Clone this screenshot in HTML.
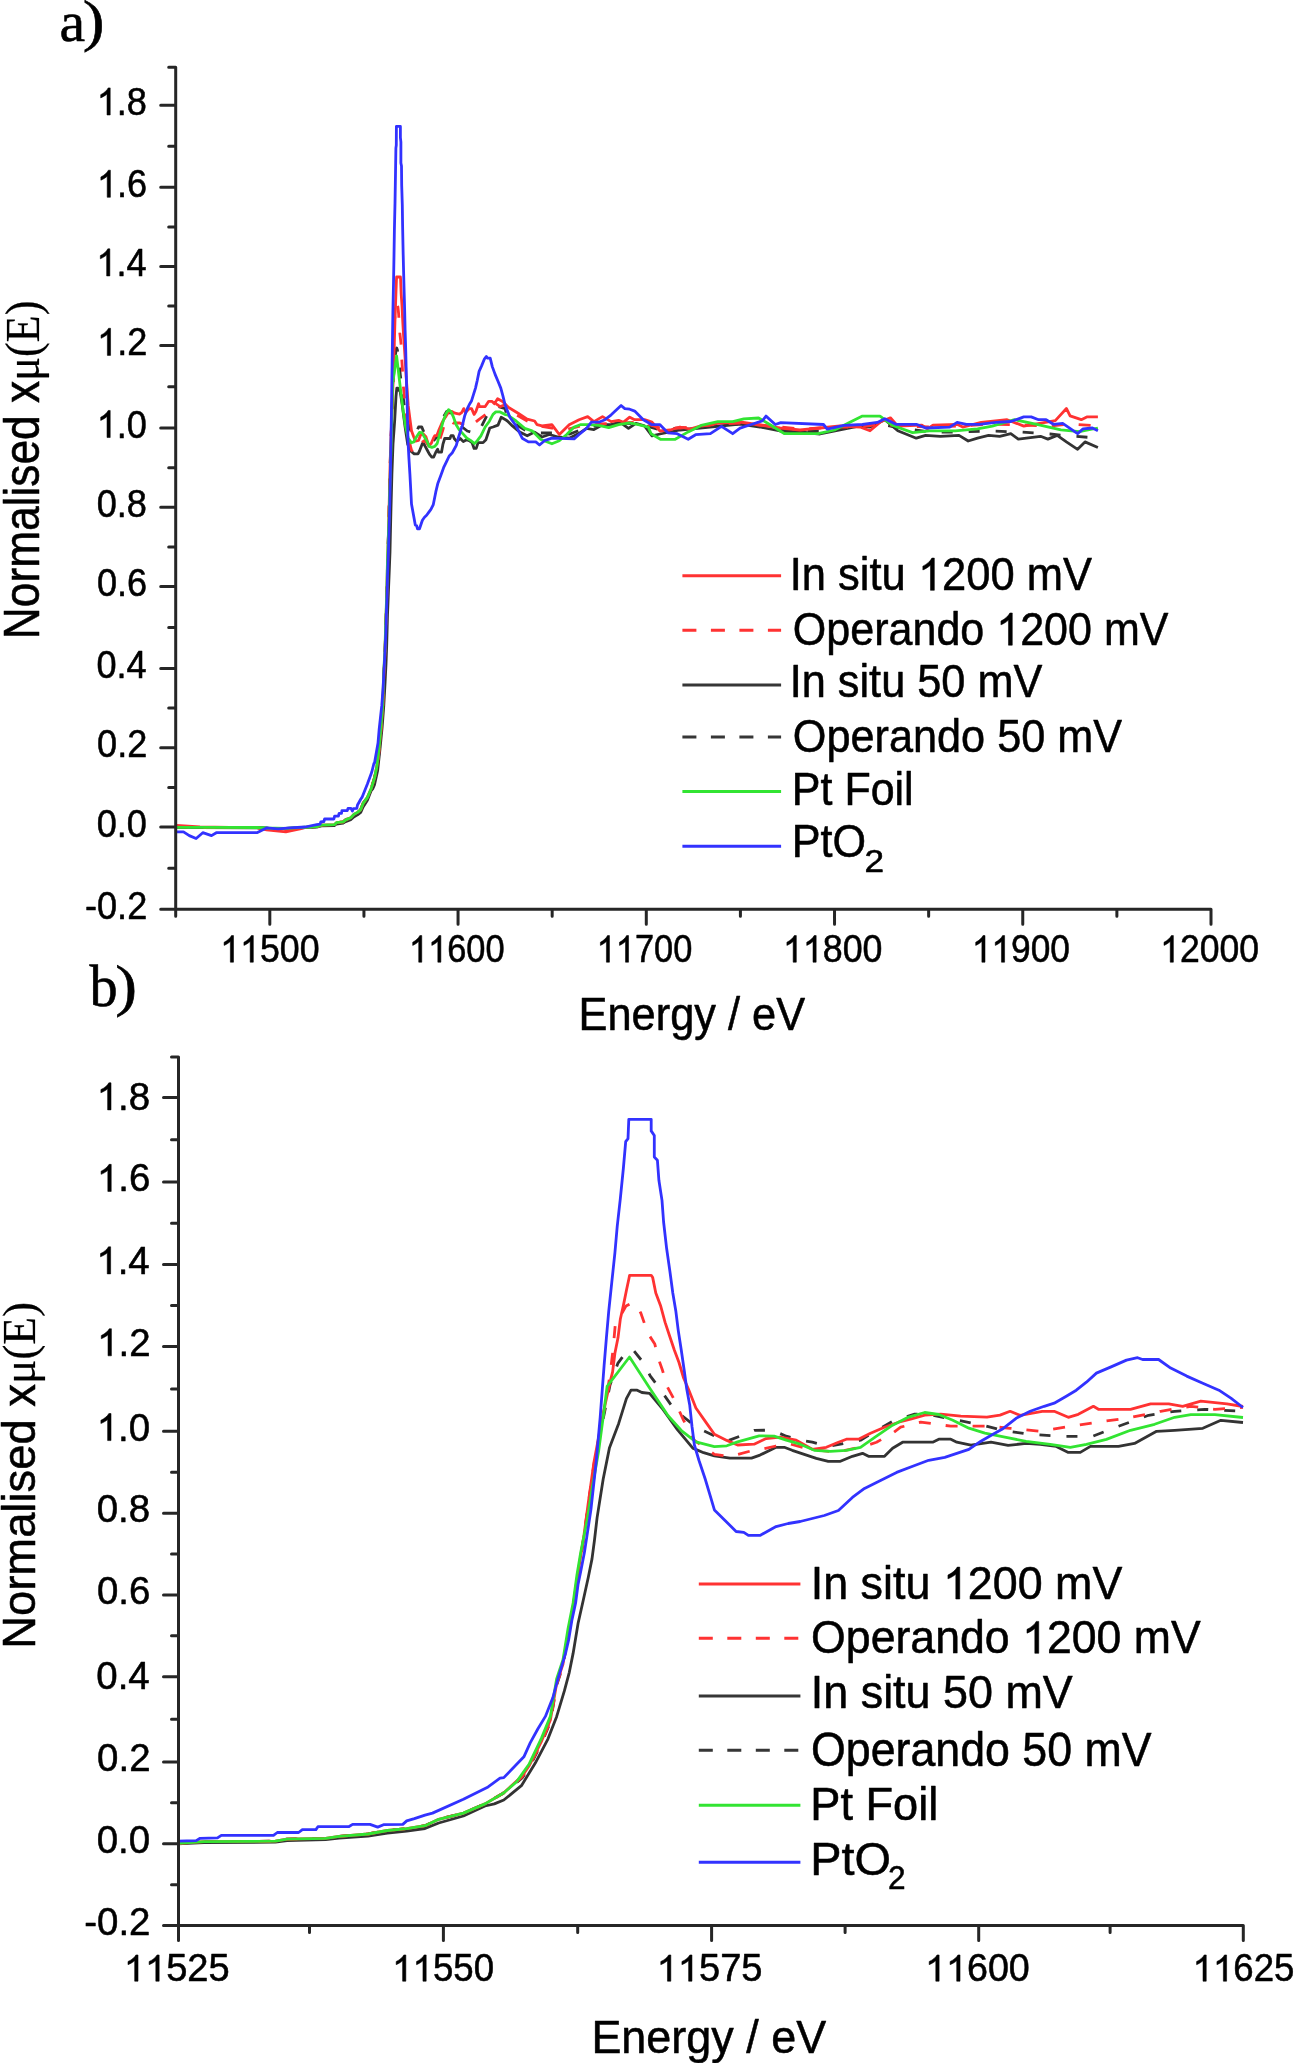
<!DOCTYPE html><html><head><meta charset="utf-8"><style>html,body{margin:0;padding:0;background:#fff;width:1295px;height:2063px;overflow:hidden}</style></head><body><svg width="1295" height="2063" viewBox="0 0 1295 2063" style="display:block;will-change:transform">
<rect width="100%" height="100%" fill="#fff"/>
<g font-family='"Liberation Sans", sans-serif' fill="#000" style="font-kerning:none">
<text transform="translate(59.58,40.72) scale(0.9966,1)" font-size="57.92" font-family='"Liberation Serif", serif' stroke="#000" stroke-width="0.6">a</text>
<text transform="translate(82.84,39.82) scale(1.1561,1)" font-size="56.56" font-family='"Liberation Serif", serif' stroke="#000" stroke-width="0.6">)</text>
<text transform="translate(89.40,1005.81) scale(0.9588,1)" font-size="58.72" font-family='"Liberation Serif", serif' stroke="#000" stroke-width="0.6">b</text>
<text transform="translate(115.24,1004.71) scale(1.1360,1)" font-size="57.56" font-family='"Liberation Serif", serif' stroke="#000" stroke-width="0.6">)</text>
<path d="M176.5,827.0 L200.0,827.6 L256.9,827.6 L266.5,828.0 L285.8,828.5 L309.0,827.2 L316.7,826.7 L321.5,825.2 L334.3,824.7 L336.4,822.7 L343.2,821.9 L345.6,819.9 L350.7,817.7 L354.1,814.3 L357.5,812.4 L360.7,809.6 L363.1,803.4 L367.4,797.4 L371.2,788.5 L374.5,777.9 L377.7,763.3 L378.9,753.6 L381.1,730.1 L382.7,710.6 L383.8,676.1 L384.9,657.7 L385.8,626.7 L386.7,600.7 L387.3,574.1 L388.0,550.7 L388.6,530.3 L389.3,502.2 L390.3,461.6 L391.4,430.6 L392.3,407.3 L393.1,383.0 L394.5,362.0 L396.1,350.0 L396.7,348.0 L397.4,350.0 L399.1,362.0 L400.2,374.1 L401.4,383.0 L404.4,406.8 L408.5,424.8 L411.5,432.4 L413.7,437.6 L416.9,430.8 L418.6,427.0 L421.7,426.9 L424.1,432.7 L426.6,436.6 L428.7,438.5 L431.6,442.5 L433.7,440.5 L437.2,436.6 L440.8,425.0 L443.2,417.2 L446.8,411.3 L448.9,411.3 L452.4,415.2 L457.0,420.1 L458.8,422.1 L462.2,427.0 L467.3,431.0 L473.4,432.9 L478.4,432.9 L483.1,423.1 L488.4,412.5 L493.0,408.6 L498.3,406.6 L505.1,408.6 L507.4,418.0 L515.0,424.0 L525.0,430.0 L540.0,433.0 L555.0,433.0 L570.0,434.0 L585.0,428.0 L600.0,425.0 L620.0,423.0 L640.0,424.0 L660.0,430.0 L680.0,428.0 L700.0,427.0 L720.0,425.0 L740.0,424.0 L760.0,426.0 L780.0,429.0 L800.0,431.0 L820.0,431.0 L840.0,428.0 L860.0,426.0 L880.0,424.0 L900.0,428.0 L930.0,432.0 L960.0,432.0 L990.0,431.0 L1020.0,432.0 L1050.0,434.0 L1070.0,436.0 L1097.9,438.0" stroke="#333" stroke-width="2.8" stroke-dasharray="11,16" fill="none" stroke-linejoin="round"/>
<path d="M176.5,827.0 L200.0,827.6 L256.9,827.8 L266.5,828.5 L285.8,828.8 L309.0,827.4 L316.7,827.2 L321.5,825.9 L334.3,825.6 L336.4,824.0 L343.2,823.1 L345.6,821.6 L350.7,819.6 L354.1,816.7 L357.5,814.8 L360.7,812.3 L363.1,807.0 L367.4,800.2 L371.2,790.5 L372.9,788.5 L374.5,784.7 L377.6,770.8 L380.0,748.9 L382.2,726.5 L383.8,705.4 L385.1,681.9 L386.0,664.0 L386.7,645.1 L387.5,614.9 L388.4,592.2 L389.3,570.0 L390.0,551.6 L390.4,533.2 L390.9,511.5 L391.9,474.1 L393.0,444.2 L394.7,420.3 L396.0,396.3 L396.8,388.1 L397.9,388.1 L398.7,390.3 L400.1,391.1 L402.3,405.4 L405.0,426.3 L407.7,444.2 L409.6,448.7 L411.5,451.7 L414.2,453.9 L418.0,453.9 L419.5,451.0 L422.4,443.5 L423.8,443.5 L425.2,446.4 L427.3,450.2 L429.4,454.1 L431.6,457.0 L433.7,457.0 L435.8,452.2 L437.6,449.3 L438.6,452.2 L441.5,452.2 L442.9,444.4 L444.7,438.5 L450.0,438.5 L451.0,435.6 L453.1,435.6 L454.2,438.5 L456.7,441.4 L460.3,438.5 L463.3,441.6 L466.5,439.7 L469.1,440.7 L472.0,442.6 L474.1,448.4 L476.2,448.4 L478.1,442.6 L483.1,442.6 L485.9,439.7 L489.8,428.0 L493.0,427.0 L498.0,425.1 L501.2,417.3 L505.1,419.4 L507.4,421.0 L512.4,425.9 L519.8,432.1 L527.2,435.8 L534.6,432.1 L542.0,437.0 L549.4,434.5 L558.1,437.0 L569.2,438.2 L579.1,433.3 L586.5,428.4 L593.9,429.6 L602.5,424.7 L611.2,424.7 L619.8,422.2 L628.5,428.4 L635.9,423.4 L644.5,425.9 L652.0,435.8 L660.0,434.0 L670.0,432.0 L680.0,430.0 L700.0,428.0 L720.0,426.0 L740.0,424.0 L760.0,427.0 L780.0,431.0 L800.0,432.0 L820.0,434.0 L840.0,430.0 L860.0,426.0 L870.0,427.1 L884.8,419.7 L897.8,430.8 L916.3,438.2 L925.6,435.4 L940.4,436.3 L959.0,435.4 L968.2,441.0 L977.5,438.2 L988.6,435.4 L999.7,436.3 L1010.8,433.6 L1018.3,439.1 L1040.5,436.3 L1047.9,439.1 L1057.2,435.4 L1066.4,441.9 L1077.6,449.3 L1085.0,441.9 L1097.9,447.5" stroke="#333" stroke-width="2.8" fill="none" stroke-linejoin="round"/>
<path d="M176.5,826.5 L200.0,827.5 L256.9,827.8 L266.5,829.0 L285.8,830.0 L300.0,828.5 L309.0,826.8 L316.7,826.7 L321.5,825.2 L334.3,824.7 L336.4,822.7 L343.2,821.9 L345.6,819.9 L350.7,817.7 L354.1,814.3 L357.5,812.4 L360.7,809.6 L363.1,803.4 L367.4,797.4 L371.2,788.5 L374.5,777.9 L377.7,762.4 L378.9,752.7 L381.1,729.2 L382.7,709.6 L383.8,675.2 L384.9,656.7 L385.8,625.7 L386.7,599.7 L387.3,573.1 L388.0,549.8 L388.6,529.4 L389.3,500.2 L390.3,459.6 L391.4,428.7 L392.3,403.4 L393.1,373.3 L393.7,349.0 L394.1,323.2 L394.8,317.9 L396.0,306.6 L397.0,303.7 L397.9,306.9 L398.6,313.5 L399.8,332.9 L401.0,343.3 L401.7,358.2 L402.4,368.7 L403.2,384.6 L404.3,395.7 L406.1,417.3 L408.0,436.8 L411.5,450.2 L414.2,452.5 L417.7,447.2 L419.5,445.8 L422.3,442.2 L424.8,440.3 L428.4,445.4 L433.0,448.3 L437.9,442.5 L440.1,438.5 L442.9,429.8 L444.3,424.0 L447.8,419.2 L449.2,420.1 L453.1,423.0 L459.9,423.0 L463.7,425.1 L469.1,428.0 L474.5,423.1 L479.1,419.3 L484.5,415.4 L490.5,408.6 L495.8,403.7 L500.1,406.6 L505.1,404.7 L508.6,410.0 L518.5,416.0 L527.2,421.0 L540.0,426.0 L552.0,428.0 L565.0,430.0 L580.0,426.0 L600.0,424.0 L620.0,423.0 L640.0,422.0 L660.0,428.0 L680.0,428.0 L700.0,426.0 L720.0,424.0 L740.0,423.0 L760.0,425.0 L780.0,427.0 L800.0,429.0 L820.0,428.0 L840.0,427.0 L860.0,427.0 L880.0,424.0 L900.0,426.0 L930.0,427.0 L960.0,426.0 L990.0,424.0 L1020.0,425.0 L1050.0,426.0 L1070.0,424.0 L1097.9,426.0" stroke="#ff3232" stroke-width="2.8" stroke-dasharray="12,15" fill="none" stroke-linejoin="round"/>
<path d="M176.5,825.5 L200.0,827.0 L230.0,827.5 L256.9,827.5 L266.5,829.8 L285.8,831.8 L300.0,829.0 L309.0,826.5 L316.7,826.7 L321.5,825.2 L334.3,824.7 L336.4,822.7 L343.2,821.9 L345.6,819.9 L350.7,817.7 L354.1,814.3 L357.5,812.4 L360.7,809.6 L363.1,803.4 L367.4,797.4 L371.2,788.5 L374.5,777.9 L377.7,761.5 L378.9,751.7 L381.1,728.2 L382.7,708.7 L383.8,674.3 L384.9,655.7 L385.8,624.7 L386.7,598.7 L387.3,572.1 L388.0,548.8 L388.6,528.4 L389.3,499.3 L390.3,457.7 L391.4,426.7 L392.3,402.4 L393.2,379.2 L393.6,370.2 L394.0,352.2 L394.5,337.2 L395.0,319.4 L395.5,306.0 L396.0,291.2 L396.4,280.8 L396.6,277.0 L400.4,277.0 L400.6,279.2 L401.2,294.1 L402.0,306.0 L402.8,322.4 L403.6,335.8 L404.5,349.2 L405.3,361.1 L406.1,376.2 L406.9,386.7 L408.2,405.4 L410.1,420.3 L411.5,430.8 L413.7,436.8 L415.6,441.2 L418.5,440.5 L420.6,435.1 L423.1,433.7 L425.9,436.6 L428.7,445.4 L431.2,443.5 L433.3,438.5 L434.8,435.6 L436.9,435.6 L439.0,429.8 L441.5,424.0 L443.9,419.2 L446.1,416.1 L448.5,412.3 L451.4,411.3 L454.9,413.2 L459.5,414.2 L461.9,412.3 L463.7,408.6 L465.5,412.5 L469.4,408.6 L471.6,408.6 L474.1,414.4 L475.9,411.5 L478.6,403.7 L479.5,406.6 L485.2,406.6 L488.7,401.3 L491.9,401.3 L494.4,403.7 L497.6,398.8 L502.2,401.3 L505.1,403.9 L508.6,407.4 L518.5,413.5 L527.2,419.1 L534.6,421.0 L537.1,424.7 L542.0,425.9 L551.9,424.7 L559.3,434.5 L569.2,424.7 L579.1,419.7 L587.7,416.6 L593.9,421.6 L602.5,416.6 L611.2,421.6 L618.6,420.3 L623.5,422.2 L629.7,417.2 L634.7,419.7 L644.5,419.7 L652.0,422.2 L660.0,431.0 L670.0,430.0 L680.0,427.0 L690.0,429.0 L700.0,426.0 L710.0,425.0 L720.0,423.0 L740.0,422.0 L760.0,425.0 L780.0,428.0 L800.0,430.0 L820.0,428.0 L840.0,426.0 L860.0,427.0 L870.0,430.8 L881.1,421.5 L890.4,417.8 L897.8,426.1 L921.9,425.2 L927.4,428.9 L933.0,425.2 L957.1,424.3 L962.7,427.1 L981.2,422.4 L1007.1,419.7 L1023.8,426.1 L1055.3,420.6 L1066.4,408.5 L1070.1,415.9 L1081.3,419.7 L1086.8,416.9 L1097.9,416.9" stroke="#ff3232" stroke-width="2.8" fill="none" stroke-linejoin="round"/>
<path d="M176.5,827.3 L200.0,827.3 L256.9,827.5 L266.5,828.0 L285.8,828.3 L309.0,827.0 L316.7,826.7 L321.5,825.2 L334.3,824.7 L336.4,822.7 L343.2,821.9 L345.6,819.9 L350.7,817.7 L354.1,814.3 L357.5,812.4 L360.7,809.6 L363.1,803.4 L367.4,797.4 L371.2,788.5 L374.5,777.9 L376.7,767.2 L378.9,750.0 L381.1,725.4 L382.7,705.4 L383.8,670.2 L384.9,651.4 L385.8,619.9 L386.7,594.7 L387.3,567.6 L388.0,545.5 L389.1,514.5 L390.0,481.6 L391.1,447.2 L392.1,408.3 L392.6,384.3 L396.6,355.8 L400.1,385.8 L403.4,412.8 L405.8,427.8 L408.2,438.3 L411.5,442.8 L413.7,442.0 L415.6,438.3 L419.4,432.4 L422.0,432.7 L424.1,436.6 L426.6,440.5 L429.1,446.4 L431.9,447.3 L434.8,446.4 L437.2,443.5 L440.1,432.7 L442.9,422.1 L445.7,414.2 L448.5,409.7 L451.0,411.7 L453.5,417.2 L456.3,425.0 L459.2,429.8 L463.0,433.9 L466.5,437.8 L470.9,440.7 L474.5,443.6 L477.3,440.7 L480.9,435.8 L485.2,427.0 L489.4,421.2 L493.0,414.4 L495.8,411.9 L500.1,411.9 L505.1,414.6 L507.4,414.8 L516.1,421.0 L524.7,428.4 L532.1,430.8 L540.8,439.5 L551.9,443.8 L559.3,440.7 L566.7,434.5 L574.1,427.1 L580.3,424.7 L589.0,424.7 L598.8,425.3 L608.7,427.7 L618.6,424.7 L629.7,422.8 L638.4,424.7 L648.3,427.1 L651.1,433.7 L660.4,439.3 L675.2,439.3 L688.2,431.9 L701.2,425.4 L717.8,421.7 L732.7,421.7 L743.8,418.9 L758.6,418.0 L769.7,424.5 L784.6,433.7 L799.4,433.7 L817.9,433.7 L834.6,430.0 L849.4,422.6 L862.4,416.1 L880.0,416.1 L892.2,425.2 L912.6,432.6 L929.3,430.8 L955.2,430.8 L977.5,428.9 L992.3,426.1 L1014.5,419.7 L1036.8,424.3 L1060.9,429.9 L1079.4,431.7 L1097.9,428.0" stroke="#32e432" stroke-width="2.8" fill="none" stroke-linejoin="round"/>
<path d="M176.5,831.8 L183.5,831.8 L189.3,835.6 L196.1,838.5 L202.8,832.7 L211.5,835.6 L216.3,832.7 L256.9,832.7 L266.5,827.9 L278.1,828.9 L289.7,827.9 L305.1,827.0 L316.7,824.7 L320.1,824.1 L320.8,821.9 L323.9,821.5 L324.6,819.0 L333.9,819.0 L334.6,816.2 L338.4,816.2 L339.1,813.4 L341.5,813.4 L341.9,810.6 L347.3,810.6 L348.0,808.4 L351.0,808.4 L352.4,811.0 L353.4,808.7 L356.8,808.4 L357.5,805.0 L358.8,802.7 L360.7,799.3 L362.0,797.4 L367.4,783.9 L371.8,772.0 L373.9,763.5 L374.5,762.9 L378.0,743.0 L379.1,730.0 L380.5,717.1 L381.8,705.4 L383.1,687.8 L384.0,670.2 L384.7,657.7 L385.3,645.1 L385.9,631.3 L386.4,612.4 L387.1,594.7 L387.5,576.1 L388.0,563.9 L388.6,545.5 L389.8,504.0 L390.7,456.2 L391.4,414.3 L392.1,364.2 L392.5,337.2 L392.9,312.0 L393.5,283.7 L394.0,255.4 L394.4,230.1 L395.0,203.4 L395.5,173.6 L395.9,148.1 L396.3,145.1 L396.4,126.4 L400.4,126.4 L400.4,137.7 L400.9,142.1 L400.9,163.1 L401.5,166.1 L401.7,185.6 L402.3,204.9 L402.6,225.7 L403.1,251.0 L403.6,271.8 L404.2,294.1 L404.7,312.0 L405.1,329.8 L405.7,349.2 L406.2,370.2 L406.6,386.7 L407.1,402.3 L407.6,423.3 L408.0,441.2 L408.8,456.2 L409.9,474.1 L410.7,489.0 L411.5,504.0 L413.4,514.5 L415.3,525.0 L416.7,525.8 L417.5,528.8 L419.5,528.8 L422.4,520.2 L424.5,517.2 L426.6,515.3 L428.7,512.4 L430.9,509.4 L433.3,504.6 L435.8,491.9 L437.9,483.2 L440.8,475.5 L443.6,467.7 L446.4,461.8 L449.2,456.0 L452.1,453.1 L454.2,449.3 L456.3,445.4 L458.4,437.6 L460.6,430.8 L462.2,426.1 L464.8,415.4 L467.3,408.6 L469.8,403.7 L471.6,400.7 L473.7,393.9 L475.5,388.1 L477.3,380.3 L479.1,371.4 L481.7,365.6 L484.5,358.8 L486.4,356.5 L487.3,358.2 L490.2,358.2 L492.3,366.6 L495.1,374.4 L498.0,381.3 L500.8,388.1 L502.9,395.8 L505.1,404.9 L509.9,417.2 L516.1,425.9 L522.2,438.2 L528.4,441.9 L535.8,441.9 L539.5,445.0 L544.5,440.7 L551.9,438.2 L574.1,438.9 L579.1,434.5 L586.5,428.4 L591.4,422.2 L598.8,422.2 L605.0,419.7 L611.2,414.8 L621.1,405.5 L624.8,408.6 L629.7,409.2 L634.7,411.1 L643.3,419.7 L652.0,424.7 L660.0,424.7 L667.8,432.8 L677.1,433.7 L688.2,439.3 L695.6,434.7 L710.4,433.7 L721.5,426.3 L732.7,433.7 L740.1,428.2 L751.2,424.5 L762.3,420.8 L766.0,416.1 L775.3,424.5 L780.8,422.6 L823.5,424.5 L827.2,429.1 L843.9,425.4 L862.4,424.5 L877.4,422.4 L884.8,418.7 L895.9,424.3 L916.3,424.3 L925.6,428.0 L949.7,427.1 L957.1,422.4 L966.4,424.3 L979.3,424.3 L996.0,422.4 L1010.8,421.5 L1023.8,416.9 L1031.2,416.9 L1038.6,419.7 L1046.1,419.7 L1053.5,424.3 L1062.7,423.4 L1077.6,433.6 L1083.1,428.9 L1092.4,428.0 L1097.9,430.8" stroke="#3232ff" stroke-width="2.8" fill="none" stroke-linejoin="round"/>
<path d="M177.7,1843.3 L204.0,1841.7 L275.4,1841.2 L287.0,1839.2 L325.6,1838.3 L339.1,1836.3 L368.0,1834.0 L387.4,1830.5 L406.7,1828.6 L425.0,1825.7 L438.7,1819.3 L463.4,1813.1 L485.0,1803.9 L503.6,1793.0 L522.1,1778.0 L529.0,1768.0 L541.6,1743.0 L550.4,1722.0 L556.7,1685.0 L563.0,1666.0 L568.1,1635.0 L573.1,1609.0 L576.9,1582.0 L580.7,1558.0 L584.0,1537.0 L588.0,1508.0 L594.0,1466.0 L600.0,1434.0 L605.0,1410.0 L610.0,1385.0 L617.8,1363.4 L627.0,1351.0 L630.5,1349.0 L634.0,1351.0 L644.0,1363.4 L650.2,1375.8 L657.1,1385.0 L674.3,1409.5 L697.5,1428.0 L714.4,1435.8 L726.8,1441.2 L745.3,1434.2 L754.6,1430.3 L772.1,1430.2 L786.2,1436.2 L800.2,1440.2 L812.3,1442.2 L828.3,1446.3 L840.4,1444.2 L860.5,1440.2 L880.5,1428.2 L894.6,1420.2 L914.7,1414.1 L926.7,1414.1 L946.8,1418.1 L972.9,1423.2 L983.0,1425.2 L1002.0,1430.3 L1030.2,1434.4 L1064.3,1436.4 L1092.4,1436.4 L1118.5,1426.3 L1148.6,1415.3 L1174.7,1411.3 L1204.8,1409.3 L1243.0,1411.3" stroke="#333" stroke-width="2.8" stroke-dasharray="11,16" fill="none" stroke-linejoin="round"/>
<path d="M177.7,1843.8 L204.0,1842.5 L275.4,1842.2 L287.0,1840.5 L325.6,1839.6 L339.1,1838.0 L368.0,1836.0 L387.4,1833.0 L406.7,1831.0 L425.0,1828.5 L438.7,1823.0 L463.4,1816.0 L485.0,1806.0 L494.3,1803.9 L503.8,1800.0 L521.4,1785.7 L535.3,1763.1 L547.9,1739.1 L556.7,1716.4 L564.3,1691.2 L569.3,1672.3 L573.1,1653.4 L578.1,1623.2 L583.2,1600.5 L588.2,1577.8 L592.0,1558.9 L594.5,1540.0 L597.1,1517.6 L603.2,1479.0 L609.4,1448.1 L618.7,1423.4 L626.4,1398.7 L631.0,1390.2 L637.2,1390.2 L641.9,1392.5 L649.6,1393.3 L661.9,1408.0 L677.4,1429.6 L692.8,1448.1 L703.6,1452.7 L714.4,1455.8 L729.9,1458.1 L751.5,1458.1 L760.0,1455.1 L776.1,1447.3 L784.2,1447.3 L792.2,1450.3 L804.2,1454.3 L816.3,1458.3 L828.3,1461.3 L840.4,1461.3 L852.4,1456.3 L862.5,1453.3 L868.5,1456.3 L884.5,1456.3 L892.6,1448.3 L902.6,1442.2 L932.7,1442.2 L938.8,1439.2 L950.8,1439.2 L956.8,1442.2 L970.9,1445.2 L991.0,1442.2 L1008.1,1445.4 L1026.1,1443.4 L1040.2,1444.4 L1056.3,1446.4 L1068.3,1452.4 L1080.3,1452.4 L1090.4,1446.4 L1118.5,1446.4 L1134.5,1443.4 L1156.6,1431.3 L1174.7,1430.3 L1202.8,1428.3 L1220.9,1420.3 L1243.0,1422.5" stroke="#333" stroke-width="2.8" fill="none" stroke-linejoin="round"/>
<path d="M177.7,1843.3 L204.0,1841.7 L275.4,1841.2 L287.0,1839.2 L325.6,1838.3 L339.1,1836.3 L368.0,1834.0 L387.4,1830.5 L406.7,1828.6 L425.0,1825.7 L438.7,1819.3 L463.4,1813.1 L485.0,1803.9 L503.6,1793.0 L522.1,1777.0 L529.0,1767.0 L541.6,1742.0 L550.4,1721.0 L556.7,1684.0 L563.0,1665.0 L568.1,1634.0 L573.1,1608.0 L576.9,1581.0 L580.7,1557.0 L584.0,1536.0 L588.0,1506.0 L594.0,1464.0 L600.0,1432.0 L605.0,1406.0 L610.0,1375.0 L613.0,1350.0 L615.4,1323.2 L619.3,1317.8 L626.0,1306.0 L632.0,1303.0 L637.1,1306.3 L640.9,1313.2 L647.9,1333.3 L654.8,1344.1 L658.7,1359.5 L662.5,1370.3 L667.2,1386.6 L673.4,1398.1 L683.6,1420.3 L694.4,1440.4 L714.4,1454.3 L729.9,1456.6 L749.9,1451.2 L760.0,1449.7 L776.0,1446.0 L790.0,1444.0 L810.3,1449.3 L836.4,1452.3 L864.5,1446.3 L876.5,1442.2 L892.6,1433.2 L900.6,1427.2 L920.7,1422.2 L928.7,1423.2 L950.8,1426.2 L989.0,1426.2 L1010.1,1428.3 L1040.2,1431.3 L1070.3,1426.3 L1096.4,1422.3 L1126.5,1418.3 L1160.6,1411.3 L1190.8,1406.3 L1214.9,1409.3 L1243.0,1407.3" stroke="#ff3232" stroke-width="2.8" stroke-dasharray="12,15" fill="none" stroke-linejoin="round"/>
<path d="M177.7,1843.3 L204.0,1841.7 L275.4,1841.2 L287.0,1839.2 L325.6,1838.3 L339.1,1836.3 L368.0,1834.0 L387.4,1830.5 L406.7,1828.6 L425.0,1825.7 L438.7,1819.3 L463.4,1813.1 L485.0,1803.9 L503.6,1793.0 L522.1,1776.1 L529.0,1766.0 L541.6,1741.0 L550.4,1720.0 L556.7,1683.0 L563.0,1664.0 L568.1,1633.0 L573.1,1607.0 L576.9,1580.0 L580.7,1556.0 L584.0,1535.0 L588.0,1505.0 L594.0,1462.0 L600.0,1430.0 L605.0,1405.0 L610.3,1381.1 L612.6,1371.8 L614.9,1353.3 L618.0,1337.8 L620.3,1319.3 L623.4,1305.4 L626.5,1290.0 L628.8,1279.2 L629.6,1275.3 L651.2,1275.3 L652.7,1277.6 L655.8,1293.0 L660.5,1305.4 L665.1,1322.4 L669.7,1336.3 L674.4,1350.2 L679.0,1362.5 L683.6,1378.0 L688.3,1388.8 L695.9,1408.0 L706.7,1423.4 L714.4,1434.2 L726.8,1440.4 L737.6,1445.0 L754.1,1444.2 L766.1,1438.6 L780.2,1437.2 L796.2,1440.2 L812.3,1449.3 L826.3,1447.3 L838.4,1442.2 L846.4,1439.2 L858.5,1439.2 L870.5,1433.2 L884.5,1427.2 L898.6,1422.2 L910.6,1419.1 L924.7,1415.1 L940.8,1414.1 L960.8,1416.1 L986.9,1417.1 L1000.0,1415.1 L1010.1,1411.3 L1020.1,1415.3 L1042.2,1411.3 L1054.2,1411.3 L1068.3,1417.3 L1078.3,1414.3 L1093.4,1406.3 L1098.4,1409.3 L1130.5,1409.3 L1150.6,1403.8 L1168.7,1403.8 L1182.7,1406.3 L1200.8,1401.2 L1226.9,1403.8 L1243.0,1406.5" stroke="#ff3232" stroke-width="2.8" fill="none" stroke-linejoin="round"/>
<path d="M177.7,1843.3 L204.0,1841.7 L275.4,1841.2 L287.0,1839.2 L325.6,1838.3 L339.1,1836.3 L368.0,1834.0 L387.4,1830.5 L406.7,1828.6 L425.0,1825.7 L438.7,1819.3 L463.4,1813.1 L485.0,1803.9 L503.6,1793.0 L516.4,1782.0 L529.0,1764.3 L541.6,1737.9 L550.4,1716.4 L556.7,1678.6 L563.0,1659.7 L568.1,1628.2 L573.1,1603.0 L576.9,1575.3 L580.7,1552.6 L587.0,1520.7 L592.4,1486.7 L598.6,1451.2 L604.0,1411.0 L607.1,1386.3 L629.5,1357.0 L649.6,1387.9 L668.1,1415.7 L682.0,1431.1 L695.9,1441.9 L714.4,1446.6 L726.8,1445.8 L737.6,1441.9 L759.2,1435.8 L774.1,1436.2 L786.2,1440.2 L800.2,1444.2 L814.3,1450.3 L830.3,1451.3 L846.4,1450.3 L860.5,1447.3 L876.5,1436.2 L892.6,1425.2 L908.6,1417.1 L924.7,1412.5 L938.8,1414.5 L952.8,1420.2 L968.9,1428.2 L984.9,1433.2 L1006.1,1437.4 L1026.1,1441.4 L1050.2,1444.4 L1070.3,1447.4 L1086.4,1444.4 L1106.4,1439.4 L1130.5,1430.3 L1154.6,1424.3 L1174.7,1417.3 L1190.8,1414.7 L1214.9,1414.7 L1243.0,1417.5" stroke="#32e432" stroke-width="2.8" fill="none" stroke-linejoin="round"/>
<path d="M177.7,1841.2 L196.2,1840.6 L200.1,1838.3 L217.5,1837.9 L221.3,1835.4 L273.5,1835.4 L277.3,1832.5 L298.6,1832.5 L302.4,1829.6 L315.9,1829.6 L317.9,1826.7 L348.7,1826.7 L352.6,1824.4 L370.0,1824.4 L377.7,1827.1 L383.5,1824.7 L402.8,1824.4 L406.7,1820.9 L414.4,1818.6 L425.0,1815.1 L432.5,1813.1 L463.4,1799.2 L488.1,1786.9 L500.0,1778.2 L503.8,1777.6 L523.9,1756.8 L530.2,1742.9 L537.8,1729.0 L545.4,1716.4 L552.9,1697.5 L558.0,1678.6 L561.8,1666.0 L565.5,1653.4 L568.7,1639.6 L571.8,1620.7 L575.6,1603.0 L578.1,1584.1 L580.7,1571.5 L584.4,1552.6 L590.9,1509.9 L596.3,1460.5 L600.2,1417.2 L604.1,1365.6 L606.4,1337.8 L608.7,1311.6 L611.8,1282.2 L614.9,1252.9 L617.2,1226.6 L620.3,1198.8 L623.4,1168.0 L625.7,1141.7 L628.0,1138.6 L628.8,1119.3 L651.2,1119.3 L651.2,1130.9 L654.3,1135.5 L654.3,1157.1 L657.4,1160.2 L658.9,1180.3 L662.0,1200.4 L663.6,1222.0 L666.6,1248.3 L669.7,1269.9 L672.8,1293.0 L675.9,1311.6 L678.2,1330.1 L681.3,1350.2 L684.4,1371.8 L686.7,1388.8 L689.7,1404.9 L692.0,1426.5 L694.4,1445.0 L699.0,1460.5 L705.2,1479.0 L709.8,1494.4 L714.4,1509.9 L725.3,1520.7 L736.1,1531.5 L743.8,1532.3 L748.4,1535.4 L760.0,1535.4 L776.1,1526.6 L788.2,1523.5 L800.2,1521.5 L812.3,1518.5 L824.3,1515.5 L838.4,1510.5 L852.4,1497.4 L864.5,1488.4 L880.5,1480.4 L896.6,1472.4 L912.7,1466.3 L928.7,1460.3 L944.8,1457.3 L956.8,1453.3 L968.9,1449.3 L980.9,1441.2 L993.0,1434.2 L1002.0,1429.3 L1016.1,1418.3 L1030.2,1411.3 L1044.2,1406.3 L1054.2,1403.2 L1066.3,1396.2 L1076.3,1390.2 L1086.4,1382.2 L1096.4,1373.1 L1110.5,1367.1 L1126.5,1360.1 L1137.6,1357.7 L1142.6,1359.5 L1158.6,1359.5 L1170.7,1368.1 L1186.7,1376.1 L1202.8,1383.2 L1218.9,1390.2 L1230.9,1398.2 L1243.0,1407.5" stroke="#3232ff" stroke-width="2.8" fill="none" stroke-linejoin="round"/>
<path d="M175.70,67.20V909.20 M175.70,909.20H1211.00 M160.70,909.20H175.70 M168.70,868.15H175.70 M160.70,827.10H175.70 M168.70,787.40H175.70 M160.70,747.70H175.70 M168.70,708.10H175.70 M160.70,668.50H175.70 M168.70,627.55H175.70 M160.70,586.60H175.70 M168.70,546.95H175.70 M160.70,507.30H175.70 M168.70,467.65H175.70 M160.70,428.00H175.70 M168.70,386.80H175.70 M160.70,345.60H175.70 M168.70,306.10H175.70 M160.70,266.60H175.70 M168.70,226.95H175.70 M160.70,187.30H175.70 M168.70,146.30H175.70 M160.70,105.30H175.70 M168.70,67.20H175.70 M269.82,909.20V924.20 M458.05,909.20V924.20 M646.29,909.20V924.20 M834.53,909.20V924.20 M1022.76,909.20V924.20 M1211.00,909.20V924.20 M175.70,909.20V916.20 M363.94,909.20V916.20 M552.17,909.20V916.20 M740.41,909.20V916.20 M928.65,909.20V916.20 M1116.88,909.20V916.20" stroke="#262626" stroke-width="3.0" fill="none" stroke-linecap="round" stroke-linejoin="round"/>
<path d="M178.50,1057.00V1925.60 M178.50,1925.60H1243.30 M163.50,1925.60H178.50 M171.50,1884.65H178.50 M163.50,1843.70H178.50 M171.50,1802.80H178.50 M163.50,1761.90H178.50 M171.50,1719.35H178.50 M163.50,1676.80H178.50 M171.50,1635.85H178.50 M163.50,1594.90H178.50 M171.50,1554.10H178.50 M163.50,1513.30H178.50 M171.50,1472.30H178.50 M163.50,1431.30H178.50 M171.50,1388.90H178.50 M163.50,1346.50H178.50 M171.50,1305.50H178.50 M163.50,1264.50H178.50 M171.50,1223.30H178.50 M163.50,1182.10H178.50 M171.50,1139.80H178.50 M163.50,1097.50H178.50 M171.50,1057.00H178.50 M178.50,1925.60V1940.60 M443.40,1925.60V1940.60 M711.60,1925.60V1940.60 M978.70,1925.60V1940.60 M1243.30,1925.60V1940.60 M309.50,1925.60V1932.60 M577.70,1925.60V1932.60 M845.10,1925.60V1932.60 M1110.10,1925.60V1932.60" stroke="#262626" stroke-width="3.0" fill="none" stroke-linecap="round" stroke-linejoin="round"/>
<text transform="translate(85.01,918.59) scale(0.9169,1)" font-size="39.38"  stroke="#000" stroke-width="0.55" stroke-linejoin="round">-0.2</text>
<text transform="translate(96.75,836.69) scale(0.9169,1)" font-size="39.38"  stroke="#000" stroke-width="0.55" stroke-linejoin="round">0.0</text>
<text transform="translate(97.11,757.29) scale(0.9169,1)" font-size="39.38"  stroke="#000" stroke-width="0.55" stroke-linejoin="round">0.2</text>
<text transform="translate(96.39,677.99) scale(0.9169,1)" font-size="39.38"  stroke="#000" stroke-width="0.55" stroke-linejoin="round">0.4</text>
<text transform="translate(96.93,596.09) scale(0.9169,1)" font-size="39.38"  stroke="#000" stroke-width="0.55" stroke-linejoin="round">0.6</text>
<text transform="translate(96.75,516.89) scale(0.9169,1)" font-size="39.38"  stroke="#000" stroke-width="0.55" stroke-linejoin="round">0.8</text>
<text transform="translate(96.75,437.54) scale(0.9169,1)" font-size="39.38"  stroke="#000" stroke-width="0.55" stroke-linejoin="round"> .0</text><path d="M763 0 H583 V1098 Q518 1039 413 979 Q308 920 224 890 V1057 Q375 1125 488 1221 Q601 1318 648 1409 H763 Z" transform="translate(96.75,437.54) scale(0.01763,-0.01923)" stroke="#000" stroke-width="0.55" stroke-linejoin="round" vector-effect="non-scaling-stroke"/>
<text transform="translate(97.11,355.38) scale(0.9169,1)" font-size="39.38"  stroke="#000" stroke-width="0.55" stroke-linejoin="round"> .2</text><path d="M763 0 H583 V1098 Q518 1039 413 979 Q308 920 224 890 V1057 Q375 1125 488 1221 Q601 1318 648 1409 H763 Z" transform="translate(97.11,355.38) scale(0.01763,-0.01923)" stroke="#000" stroke-width="0.55" stroke-linejoin="round" vector-effect="non-scaling-stroke"/>
<text transform="translate(96.39,275.94) scale(0.9169,1)" font-size="39.38"  stroke="#000" stroke-width="0.55" stroke-linejoin="round"> .4</text><path d="M763 0 H583 V1098 Q518 1039 413 979 Q308 920 224 890 V1057 Q375 1125 488 1221 Q601 1318 648 1409 H763 Z" transform="translate(96.39,275.94) scale(0.01763,-0.01923)" stroke="#000" stroke-width="0.55" stroke-linejoin="round" vector-effect="non-scaling-stroke"/>
<text transform="translate(96.93,197.29) scale(0.9169,1)" font-size="39.38"  stroke="#000" stroke-width="0.55" stroke-linejoin="round"> .6</text><path d="M763 0 H583 V1098 Q518 1039 413 979 Q308 920 224 890 V1057 Q375 1125 488 1221 Q601 1318 648 1409 H763 Z" transform="translate(96.93,197.29) scale(0.01763,-0.01923)" stroke="#000" stroke-width="0.55" stroke-linejoin="round" vector-effect="non-scaling-stroke"/>
<text transform="translate(96.75,114.99) scale(0.9169,1)" font-size="39.38"  stroke="#000" stroke-width="0.55" stroke-linejoin="round"> .8</text><path d="M763 0 H583 V1098 Q518 1039 413 979 Q308 920 224 890 V1057 Q375 1125 488 1221 Q601 1318 648 1409 H763 Z" transform="translate(96.75,114.99) scale(0.01763,-0.01923)" stroke="#000" stroke-width="0.55" stroke-linejoin="round" vector-effect="non-scaling-stroke"/>
<text transform="translate(84.20,1935.28) scale(0.9771,1)" font-size="39.35"  stroke="#000" stroke-width="0.55" stroke-linejoin="round">-0.2</text>
<text transform="translate(96.69,1853.33) scale(0.9771,1)" font-size="39.35"  stroke="#000" stroke-width="0.55" stroke-linejoin="round">0.0</text>
<text transform="translate(97.08,1771.23) scale(0.9771,1)" font-size="39.35"  stroke="#000" stroke-width="0.55" stroke-linejoin="round">0.2</text>
<text transform="translate(96.31,1688.98) scale(0.9771,1)" font-size="39.35"  stroke="#000" stroke-width="0.55" stroke-linejoin="round">0.4</text>
<text transform="translate(96.89,1604.23) scale(0.9771,1)" font-size="39.35"  stroke="#000" stroke-width="0.55" stroke-linejoin="round">0.6</text>
<text transform="translate(96.69,1522.38) scale(0.9771,1)" font-size="39.35"  stroke="#000" stroke-width="0.55" stroke-linejoin="round">0.8</text>
<text transform="translate(96.69,1440.58) scale(0.9771,1)" font-size="39.35"  stroke="#000" stroke-width="0.55" stroke-linejoin="round"> .0</text><path d="M763 0 H583 V1098 Q518 1039 413 979 Q308 920 224 890 V1057 Q375 1125 488 1221 Q601 1318 648 1409 H763 Z" transform="translate(96.69,1440.58) scale(0.01877,-0.01921)" stroke="#000" stroke-width="0.55" stroke-linejoin="round" vector-effect="non-scaling-stroke"/>
<text transform="translate(97.08,1355.82) scale(0.9771,1)" font-size="39.35"  stroke="#000" stroke-width="0.55" stroke-linejoin="round"> .2</text><path d="M763 0 H583 V1098 Q518 1039 413 979 Q308 920 224 890 V1057 Q375 1125 488 1221 Q601 1318 648 1409 H763 Z" transform="translate(97.08,1355.82) scale(0.01877,-0.01921)" stroke="#000" stroke-width="0.55" stroke-linejoin="round" vector-effect="non-scaling-stroke"/>
<text transform="translate(96.31,1273.88) scale(0.9771,1)" font-size="39.35"  stroke="#000" stroke-width="0.55" stroke-linejoin="round"> .4</text><path d="M763 0 H583 V1098 Q518 1039 413 979 Q308 920 224 890 V1057 Q375 1125 488 1221 Q601 1318 648 1409 H763 Z" transform="translate(96.31,1273.88) scale(0.01877,-0.01921)" stroke="#000" stroke-width="0.55" stroke-linejoin="round" vector-effect="non-scaling-stroke"/>
<text transform="translate(96.89,1191.43) scale(0.9771,1)" font-size="39.35"  stroke="#000" stroke-width="0.55" stroke-linejoin="round"> .6</text><path d="M763 0 H583 V1098 Q518 1039 413 979 Q308 920 224 890 V1057 Q375 1125 488 1221 Q601 1318 648 1409 H763 Z" transform="translate(96.89,1191.43) scale(0.01877,-0.01921)" stroke="#000" stroke-width="0.55" stroke-linejoin="round" vector-effect="non-scaling-stroke"/>
<text transform="translate(96.69,1109.88) scale(0.9771,1)" font-size="39.35"  stroke="#000" stroke-width="0.55" stroke-linejoin="round"> .8</text><path d="M763 0 H583 V1098 Q518 1039 413 979 Q308 920 224 890 V1057 Q375 1125 488 1221 Q601 1318 648 1409 H763 Z" transform="translate(96.69,1109.88) scale(0.01877,-0.01921)" stroke="#000" stroke-width="0.55" stroke-linejoin="round" vector-effect="non-scaling-stroke"/>
<text transform="translate(220.19,962.20) scale(0.9228,1)" font-size="38.71"  stroke="#000" stroke-width="0.55" stroke-linejoin="round">  500</text><path d="M763 0 H583 V1098 Q518 1039 413 979 Q308 920 224 890 V1057 Q375 1125 488 1221 Q601 1318 648 1409 H763 Z" transform="translate(220.19,962.20) scale(0.01744,-0.01890)" stroke="#000" stroke-width="0.55" stroke-linejoin="round" vector-effect="non-scaling-stroke"/><path d="M763 0 H583 V1098 Q518 1039 413 979 Q308 920 224 890 V1057 Q375 1125 488 1221 Q601 1318 648 1409 H763 Z" transform="translate(240.02,962.20) scale(0.01744,-0.01890)" stroke="#000" stroke-width="0.55" stroke-linejoin="round" vector-effect="non-scaling-stroke"/>
<text transform="translate(408.93,962.20) scale(0.8893,1)" font-size="38.71"  stroke="#000" stroke-width="0.55" stroke-linejoin="round">  600</text><path d="M763 0 H583 V1098 Q518 1039 413 979 Q308 920 224 890 V1057 Q375 1125 488 1221 Q601 1318 648 1409 H763 Z" transform="translate(408.93,962.20) scale(0.01681,-0.01890)" stroke="#000" stroke-width="0.55" stroke-linejoin="round" vector-effect="non-scaling-stroke"/><path d="M763 0 H583 V1098 Q518 1039 413 979 Q308 920 224 890 V1057 Q375 1125 488 1221 Q601 1318 648 1409 H763 Z" transform="translate(428.04,962.20) scale(0.01681,-0.01890)" stroke="#000" stroke-width="0.55" stroke-linejoin="round" vector-effect="non-scaling-stroke"/>
<text transform="translate(596.64,962.20) scale(0.8883,1)" font-size="38.71"  stroke="#000" stroke-width="0.55" stroke-linejoin="round">  700</text><path d="M763 0 H583 V1098 Q518 1039 413 979 Q308 920 224 890 V1057 Q375 1125 488 1221 Q601 1318 648 1409 H763 Z" transform="translate(596.64,962.20) scale(0.01679,-0.01890)" stroke="#000" stroke-width="0.55" stroke-linejoin="round" vector-effect="non-scaling-stroke"/><path d="M763 0 H583 V1098 Q518 1039 413 979 Q308 920 224 890 V1057 Q375 1125 488 1221 Q601 1318 648 1409 H763 Z" transform="translate(615.73,962.20) scale(0.01679,-0.01890)" stroke="#000" stroke-width="0.55" stroke-linejoin="round" vector-effect="non-scaling-stroke"/>
<text transform="translate(782.99,962.20) scale(0.9238,1)" font-size="38.71"  stroke="#000" stroke-width="0.55" stroke-linejoin="round">  800</text><path d="M763 0 H583 V1098 Q518 1039 413 979 Q308 920 224 890 V1057 Q375 1125 488 1221 Q601 1318 648 1409 H763 Z" transform="translate(782.99,962.20) scale(0.01746,-0.01890)" stroke="#000" stroke-width="0.55" stroke-linejoin="round" vector-effect="non-scaling-stroke"/><path d="M763 0 H583 V1098 Q518 1039 413 979 Q308 920 224 890 V1057 Q375 1125 488 1221 Q601 1318 648 1409 H763 Z" transform="translate(802.84,962.20) scale(0.01746,-0.01890)" stroke="#000" stroke-width="0.55" stroke-linejoin="round" vector-effect="non-scaling-stroke"/>
<text transform="translate(971.84,962.20) scale(0.9120,1)" font-size="38.71"  stroke="#000" stroke-width="0.55" stroke-linejoin="round">  900</text><path d="M763 0 H583 V1098 Q518 1039 413 979 Q308 920 224 890 V1057 Q375 1125 488 1221 Q601 1318 648 1409 H763 Z" transform="translate(971.84,962.20) scale(0.01724,-0.01890)" stroke="#000" stroke-width="0.55" stroke-linejoin="round" vector-effect="non-scaling-stroke"/><path d="M763 0 H583 V1098 Q518 1039 413 979 Q308 920 224 890 V1057 Q375 1125 488 1221 Q601 1318 648 1409 H763 Z" transform="translate(991.43,962.20) scale(0.01724,-0.01890)" stroke="#000" stroke-width="0.55" stroke-linejoin="round" vector-effect="non-scaling-stroke"/>
<text transform="translate(1160.11,962.20) scale(0.9188,1)" font-size="38.71"  stroke="#000" stroke-width="0.55" stroke-linejoin="round"> 2000</text><path d="M763 0 H583 V1098 Q518 1039 413 979 Q308 920 224 890 V1057 Q375 1125 488 1221 Q601 1318 648 1409 H763 Z" transform="translate(1160.11,962.20) scale(0.01737,-0.01890)" stroke="#000" stroke-width="0.55" stroke-linejoin="round" vector-effect="non-scaling-stroke"/>
<text transform="translate(123.83,1981.20) scale(0.9985,1)" font-size="38.14"  stroke="#000" stroke-width="0.55" stroke-linejoin="round">  525</text><path d="M763 0 H583 V1098 Q518 1039 413 979 Q308 920 224 890 V1057 Q375 1125 488 1221 Q601 1318 648 1409 H763 Z" transform="translate(123.83,1981.20) scale(0.01860,-0.01862)" stroke="#000" stroke-width="0.55" stroke-linejoin="round" vector-effect="non-scaling-stroke"/><path d="M763 0 H583 V1098 Q518 1039 413 979 Q308 920 224 890 V1057 Q375 1125 488 1221 Q601 1318 648 1409 H763 Z" transform="translate(144.97,1981.20) scale(0.01860,-0.01862)" stroke="#000" stroke-width="0.55" stroke-linejoin="round" vector-effect="non-scaling-stroke"/>
<text transform="translate(392.19,1981.20) scale(0.9606,1)" font-size="38.14"  stroke="#000" stroke-width="0.55" stroke-linejoin="round">  550</text><path d="M763 0 H583 V1098 Q518 1039 413 979 Q308 920 224 890 V1057 Q375 1125 488 1221 Q601 1318 648 1409 H763 Z" transform="translate(392.19,1981.20) scale(0.01789,-0.01862)" stroke="#000" stroke-width="0.55" stroke-linejoin="round" vector-effect="non-scaling-stroke"/><path d="M763 0 H583 V1098 Q518 1039 413 979 Q308 920 224 890 V1057 Q375 1125 488 1221 Q601 1318 648 1409 H763 Z" transform="translate(412.53,1981.20) scale(0.01789,-0.01862)" stroke="#000" stroke-width="0.55" stroke-linejoin="round" vector-effect="non-scaling-stroke"/>
<text transform="translate(656.63,1981.20) scale(0.9985,1)" font-size="38.14"  stroke="#000" stroke-width="0.55" stroke-linejoin="round">  575</text><path d="M763 0 H583 V1098 Q518 1039 413 979 Q308 920 224 890 V1057 Q375 1125 488 1221 Q601 1318 648 1409 H763 Z" transform="translate(656.63,1981.20) scale(0.01860,-0.01862)" stroke="#000" stroke-width="0.55" stroke-linejoin="round" vector-effect="non-scaling-stroke"/><path d="M763 0 H583 V1098 Q518 1039 413 979 Q308 920 224 890 V1057 Q375 1125 488 1221 Q601 1318 648 1409 H763 Z" transform="translate(677.77,1981.20) scale(0.01860,-0.01862)" stroke="#000" stroke-width="0.55" stroke-linejoin="round" vector-effect="non-scaling-stroke"/>
<text transform="translate(925.08,1981.20) scale(0.9875,1)" font-size="38.14"  stroke="#000" stroke-width="0.55" stroke-linejoin="round">  600</text><path d="M763 0 H583 V1098 Q518 1039 413 979 Q308 920 224 890 V1057 Q375 1125 488 1221 Q601 1318 648 1409 H763 Z" transform="translate(925.08,1981.20) scale(0.01839,-0.01862)" stroke="#000" stroke-width="0.55" stroke-linejoin="round" vector-effect="non-scaling-stroke"/><path d="M763 0 H583 V1098 Q518 1039 413 979 Q308 920 224 890 V1057 Q375 1125 488 1221 Q601 1318 648 1409 H763 Z" transform="translate(945.99,1981.20) scale(0.01839,-0.01862)" stroke="#000" stroke-width="0.55" stroke-linejoin="round" vector-effect="non-scaling-stroke"/>
<text transform="translate(1192.59,1981.20) scale(0.9606,1)" font-size="38.14"  stroke="#000" stroke-width="0.55" stroke-linejoin="round">  625</text><path d="M763 0 H583 V1098 Q518 1039 413 979 Q308 920 224 890 V1057 Q375 1125 488 1221 Q601 1318 648 1409 H763 Z" transform="translate(1192.59,1981.20) scale(0.01789,-0.01862)" stroke="#000" stroke-width="0.55" stroke-linejoin="round" vector-effect="non-scaling-stroke"/><path d="M763 0 H583 V1098 Q518 1039 413 979 Q308 920 224 890 V1057 Q375 1125 488 1221 Q601 1318 648 1409 H763 Z" transform="translate(1212.93,1981.20) scale(0.01789,-0.01862)" stroke="#000" stroke-width="0.55" stroke-linejoin="round" vector-effect="non-scaling-stroke"/>
<text transform="translate(578.53,1030.30) scale(0.9326,1)" font-size="46.52" font-family='"Liberation Sans", sans-serif' stroke="#000" stroke-width="0.55" stroke-linejoin="round">Energy / eV</text>
<text transform="translate(591.40,2052.50) scale(0.9691,1)" font-size="46.38" font-family='"Liberation Sans", sans-serif' stroke="#000" stroke-width="0.55" stroke-linejoin="round">Energy / eV</text>
<g transform="translate(38.50,635.60) rotate(-90)"><text transform="translate(-3.54,0) scale(0.9013,1)" font-size="49.13" stroke="#000" stroke-width="0.55" stroke-linejoin="round">Normalised x<tspan font-family='"Liberation Serif", serif' stroke-width="0.2">μ(E)</tspan></text></g>
<g transform="translate(34.90,1645.10) rotate(-90)"><text transform="translate(-3.63,0) scale(0.9783,1)" font-size="46.38" stroke="#000" stroke-width="0.55" stroke-linejoin="round">Normalised x<tspan font-family='"Liberation Serif", serif' stroke-width="0.2">μ(E)</tspan></text></g>
<path d="M682.40,575.80H781.10" stroke="#ff3232" stroke-width="3" fill="none"/>
<path d="M682.40,630.30H781.10" stroke="#ff3232" stroke-width="3" stroke-dasharray="14,14.5" fill="none"/>
<path d="M682.40,685.00H781.10" stroke="#363636" stroke-width="3" fill="none"/>
<path d="M682.40,736.90H781.10" stroke="#363636" stroke-width="3" stroke-dasharray="14,14.5" fill="none"/>
<path d="M682.40,791.50H781.10" stroke="#32e432" stroke-width="3" fill="none"/>
<path d="M682.40,846.30H781.10" stroke="#3232ff" stroke-width="3" fill="none"/>
<text transform="translate(789.68,590.30) scale(0.9299,1)" font-size="46.81" font-family='"Liberation Sans", sans-serif' stroke="#000" stroke-width="0.55" stroke-linejoin="round">In situ  200 mV</text><path d="M763 0 H583 V1098 Q518 1039 413 979 Q308 920 224 890 V1057 Q375 1125 488 1221 Q601 1318 648 1409 H763 Z" transform="translate(918.10,590.30) scale(0.02126,-0.02286)" stroke="#000" stroke-width="0.55" stroke-linejoin="round" vector-effect="non-scaling-stroke"/>
<text transform="translate(792.86,645.20) scale(0.9195,1)" font-size="46.81" font-family='"Liberation Sans", sans-serif' stroke="#000" stroke-width="0.55" stroke-linejoin="round">Operando  200 mV</text><path d="M763 0 H583 V1098 Q518 1039 413 979 Q308 920 224 890 V1057 Q375 1125 488 1221 Q601 1318 648 1409 H763 Z" transform="translate(996.24,645.20) scale(0.02102,-0.02286)" stroke="#000" stroke-width="0.55" stroke-linejoin="round" vector-effect="non-scaling-stroke"/>
<text transform="translate(789.70,696.60) scale(0.9309,1)" font-size="46.52" font-family='"Liberation Sans", sans-serif' stroke="#000" stroke-width="0.55" stroke-linejoin="round">In situ 50 mV</text>
<text transform="translate(792.85,751.60) scale(0.9211,1)" font-size="46.96" font-family='"Liberation Sans", sans-serif' stroke="#000" stroke-width="0.55" stroke-linejoin="round">Operando 50 mV</text>
<text transform="translate(791.86,805.20) scale(0.9475,1)" font-size="45.36" font-family='"Liberation Sans", sans-serif' stroke="#000" stroke-width="0.55" stroke-linejoin="round">Pt Foil</text>
<text transform="translate(791.85,857.30) scale(0.9509,1)" font-size="45.36" font-family='"Liberation Sans", sans-serif' stroke="#000" stroke-width="0.55" stroke-linejoin="round">PtO</text>
<text transform="translate(864.44,871.90) scale(1.1449,1)" font-size="30.71" font-family='"Liberation Sans", sans-serif' stroke="#000" stroke-width="0.55" stroke-linejoin="round">2</text>
<path d="M698.80,1583.90H800.40" stroke="#ff3232" stroke-width="3" fill="none"/>
<path d="M698.80,1638.20H800.40" stroke="#ff3232" stroke-width="3" stroke-dasharray="14,14.5" fill="none"/>
<path d="M698.80,1695.90H800.40" stroke="#363636" stroke-width="3" fill="none"/>
<path d="M698.80,1750.20H800.40" stroke="#363636" stroke-width="3" stroke-dasharray="14,14.5" fill="none"/>
<path d="M698.80,1805.30H800.40" stroke="#32e432" stroke-width="3" fill="none"/>
<path d="M698.80,1862.20H800.40" stroke="#3232ff" stroke-width="3" fill="none"/>
<text transform="translate(810.76,1599.00) scale(0.9669,1)" font-size="46.38" font-family='"Liberation Sans", sans-serif' stroke="#000" stroke-width="0.55" stroke-linejoin="round">In situ  200 mV</text><path d="M763 0 H583 V1098 Q518 1039 413 979 Q308 920 224 890 V1057 Q375 1125 488 1221 Q601 1318 648 1409 H763 Z" transform="translate(943.05,1599.00) scale(0.02190,-0.02264)" stroke="#000" stroke-width="0.55" stroke-linejoin="round" vector-effect="non-scaling-stroke"/>
<text transform="translate(811.09,1653.30) scale(0.9629,1)" font-size="46.38" font-family='"Liberation Sans", sans-serif' stroke="#000" stroke-width="0.55" stroke-linejoin="round">Operando  200 mV</text><path d="M763 0 H583 V1098 Q518 1039 413 979 Q308 920 224 890 V1057 Q375 1125 488 1221 Q601 1318 648 1409 H763 Z" transform="translate(1022.10,1653.30) scale(0.02181,-0.02264)" stroke="#000" stroke-width="0.55" stroke-linejoin="round" vector-effect="non-scaling-stroke"/>
<text transform="translate(810.76,1708.30) scale(0.9714,1)" font-size="46.23" font-family='"Liberation Sans", sans-serif' stroke="#000" stroke-width="0.55" stroke-linejoin="round">In situ 50 mV</text>
<text transform="translate(811.09,1766.00) scale(0.9407,1)" font-size="47.54" font-family='"Liberation Sans", sans-serif' stroke="#000" stroke-width="0.55" stroke-linejoin="round">Operando 50 mV</text>
<text transform="translate(810.29,1819.80) scale(0.9927,1)" font-size="45.51" font-family='"Liberation Sans", sans-serif' stroke="#000" stroke-width="0.55" stroke-linejoin="round">Pt Foil</text>
<text transform="translate(810.15,1874.90) scale(1.0036,1)" font-size="46.67" font-family='"Liberation Sans", sans-serif' stroke="#000" stroke-width="0.55" stroke-linejoin="round">PtO</text>
<text transform="translate(887.92,1889.30) scale(0.9348,1)" font-size="33.86" font-family='"Liberation Sans", sans-serif' stroke="#000" stroke-width="0.55" stroke-linejoin="round">2</text>
</g></svg></body></html>
